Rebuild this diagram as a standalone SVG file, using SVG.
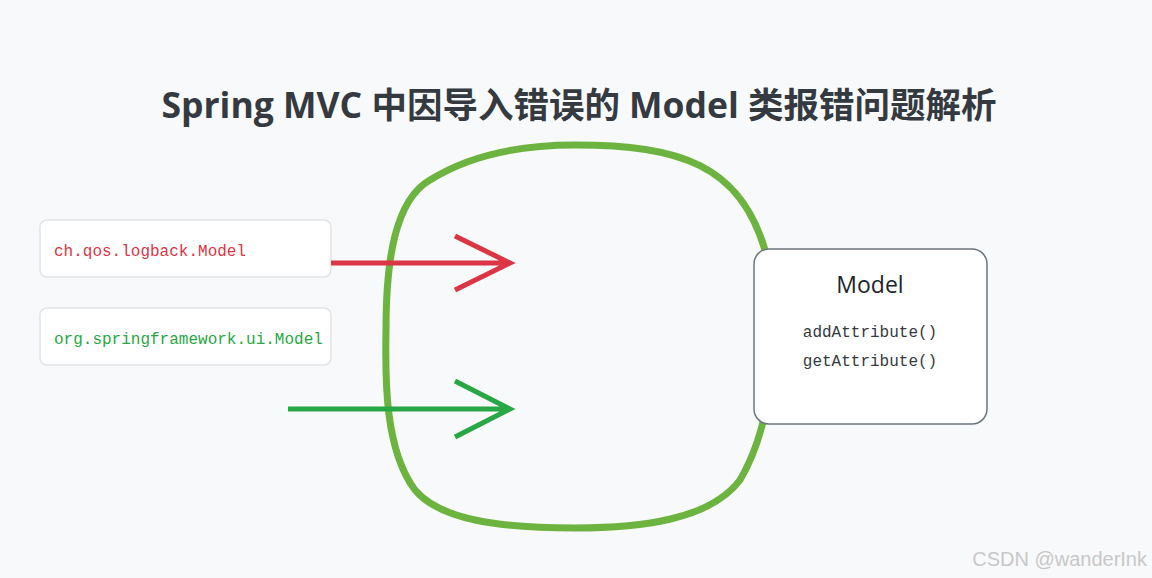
<svg xmlns="http://www.w3.org/2000/svg" width="1152" height="578" viewBox="0 0 1152 578">
<style>
.card{fill:#fff;stroke:#e1e3e6;stroke-width:1.5}
.mono{font-family:"Liberation Mono","Noto Sans CJK SC",monospace;font-size:16px}
.arr{fill:none;stroke-width:5}
</style>
<rect width="1152" height="578" fill="#f8f9fa"/>
<text x="579" y="118" text-anchor="middle" font-family="'Open Sans','Noto Sans CJK SC',sans-serif" font-weight="bold" font-size="35.5" fill="#343a40">Spring MVC 中因导入错误的 Model 类报错问题解析</text>
<path d="M575 145 C680 145 740 165 765 250 C780 330 775 420 740 480 C710 520 640 528 575 528 C500 528 440 520 415 490 C385 450 385 380 386 330 C386 260 395 200 430 180 C470 155 520 145 575 145 Z" fill="none" stroke="#6db33f" stroke-width="7"/>
<g id="n-logback"><rect class="card" x="40" y="220" width="291" height="57" rx="7"/><text class="mono" x="54" y="256" fill="#dc3545">ch.qos.logback.Model</text></g>
<g id="n-spring"><rect class="card" x="40" y="308" width="291" height="57" rx="7"/><text class="mono" x="54" y="344" fill="#28a745">org.springframework.ui.Model</text></g>
<g id="connectors">
<path class="arr" stroke="#dc3545" d="M331 263 H510 M455 236 L510 263 L455 290"/>
<path class="arr" stroke="#28a745" d="M288 409 H510 M455 381 L510 409 L455 437"/>
</g>
<g id="n-model"><rect x="754" y="249" width="233" height="175" rx="15" fill="#fff" stroke="#6c757d" stroke-width="1.5"/>
<text x="870" y="293" text-anchor="middle" font-family="'Open Sans',sans-serif" font-size="23" fill="#212529">Model</text>
<text class="mono" x="870" y="337" text-anchor="middle" font-size="15" fill="#343a40">addAttribute()</text>
<text class="mono" x="870" y="366" text-anchor="middle" font-size="15" fill="#343a40">getAttribute()</text></g>
<text x="1147" y="566" text-anchor="end" font-family="'Liberation Sans',sans-serif" font-size="20" fill="#c8c8c8">CSDN @wanderInk</text>
</svg>
